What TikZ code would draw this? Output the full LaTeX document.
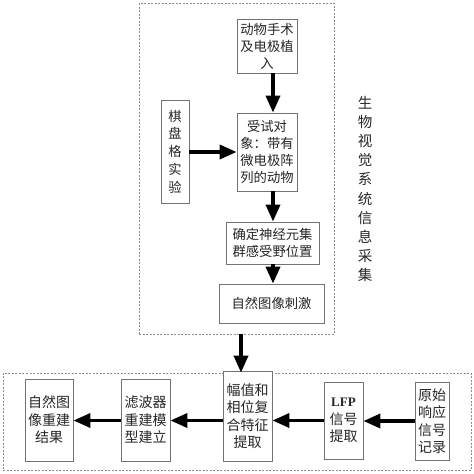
\documentclass[tikz,border=0pt]{standalone}
\usepackage{fontspec}
\setmainfont{Liberation Serif}
\newfontfamily\cjk{Noto Sans CJK SC}
\usetikzlibrary{arrows.meta}
\begin{document}
\begin{tikzpicture}[x=1pt,y=-1pt,
  box/.style={draw=black!55, line width=0.8pt, fill=white, inner sep=0pt, align=center,
    font=\cjk\fontsize{13.3}{17}\selectfont, text=black!85},
  bbox/.style={box, font=\cjk\fontsize{14}{17.5}\selectfont},
  dashbox/.style={draw=black!45, line width=0.7pt, dash pattern=on 2pt off 1.5pt, inner sep=0pt},
  arr/.style={line width=3.5pt, -{Triangle[length=17pt,width=14pt]}}]
\useasboundingbox[fill=white] (0,0) rectangle (474,474);
% dashed frames
\node[dashbox, minimum width=195pt, minimum height=331pt] (top) at (236.5,168.5) {};
\node[dashbox, minimum width=468pt, minimum height=97pt] (bot) at (237,421.5) {};
% top boxes
\node[box, minimum width=60pt, minimum height=54pt] (b1) at (267,46) {动物手术\\及电极植\\入};
\node[box, minimum width=60pt, minimum height=78pt] (b2) at (267,152) {受试对\\象：带有\\微电极阵\\列的动物};
\node[box, minimum width=28pt, minimum height=103pt, font=\cjk\fontsize{13.3}{17.7}\selectfont] (chk) at (175,151.5) {棋\\盘\\格\\实\\验};
\node[box, minimum width=93pt, minimum height=42pt] (b3) at (272.5,243) {确定神经元集\\群感受野位置};
\node[box, minimum width=105pt, minimum height=39pt] (b4) at (271.5,303.5) {自然图像刺激};
\node[align=center, inner sep=0pt, text=black!85, font=\cjk\fontsize{14.5}{19.1}\selectfont] (lbl) at (365,189) {生\\物\\视\\觉\\系\\统\\信\\息\\采\\集};
% bottom boxes
\node[bbox, minimum width=48pt, minimum height=82pt] (c1) at (49,420) {自然图\\像重建\\结果};
\node[bbox, minimum width=49pt, minimum height=82pt] (c2) at (145.5,420) {滤波器\\重建模\\型建立};
\node[bbox, minimum width=49pt, minimum height=90pt] (c3) at (247.5,416) {幅值和\\相位复\\合特征\\提取};
\node[bbox, minimum width=39pt, minimum height=77pt] (c4) at (343.5,420.5) {{\rmfamily\bfseries\fontsize{13}{17.5}\selectfont LFP}\\信号\\提取};
\node[bbox, minimum width=34pt, minimum height=78pt] (c5) at (432,421) {原始\\响应\\信号\\记录};
% arrows
\draw[arr] ([xshift=6pt]b1.south) -- ([xshift=6pt]b2.north);
\draw[arr] (chk.east |- b2.west) -- (b2.west);
\draw[arr] ([xshift=6pt]b2.south) -- ([xshift=0.5pt]b3.north);
\draw[arr] ([xshift=0.5pt]b3.south) -- ([xshift=1.5pt]b4.north);
\draw[arr] ([xshift=4.5pt]top.south) -- ([xshift=4pt]bot.north);
\draw[arr] (c5.west) -- (c4.east |- c5.west);
\draw[arr] (c4.west) -- (c3.east |- c4.west);
\draw[arr] (c3.west |- c4.west) -- (c2.east |- c4.west);
\draw[arr] (c2.west |- c4.west) -- (c1.east |- c4.west);
\end{tikzpicture}
\end{document}
